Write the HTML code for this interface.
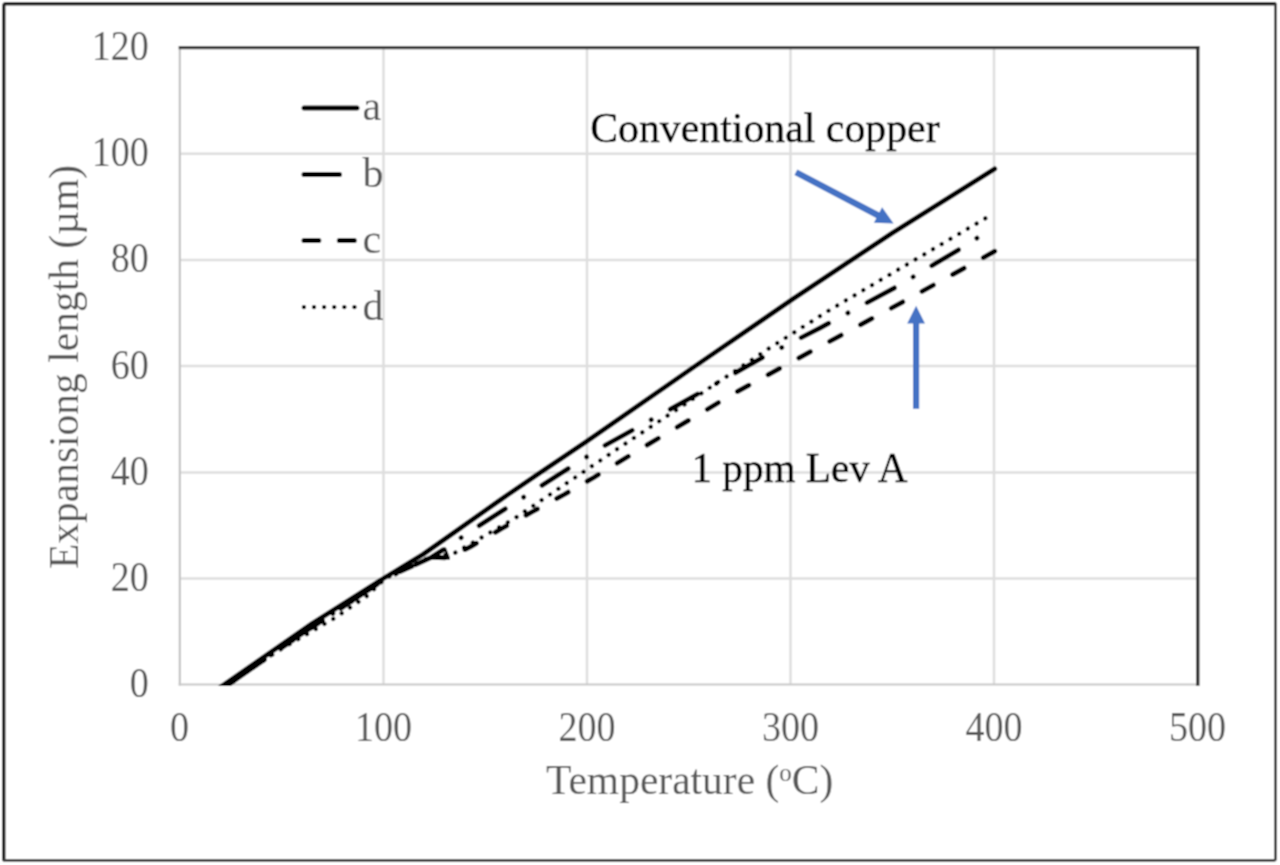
<!DOCTYPE html>
<html lang="en">
<head>
<meta charset="utf-8">
<title>Thermal expansion chart</title>
<style>
  html, body { margin: 0; padding: 0; background: #ffffff; }
  body { width: 1280px; height: 865px; overflow: hidden; }
  svg { display: block; }
  text { font-family: "Liberation Serif", "Times New Roman", Times, serif; }
  .tick { font-size: 38.1px; fill: #595959; }
  .title { font-size: 41.5px; fill: #595959; }
  .leg { font-size: 42px; fill: #595959; }
  .note { font-size: 41.8px; fill: #000000; stroke: #000000; stroke-width: 0.45px; }
  .grid line { stroke: #dedede; stroke-width: 2.5; }
  .series { fill: none; stroke: #000000; stroke-width: 5; stroke-linecap: round; stroke-linejoin: round; }
</style>
</head>
<body>
<svg width="1280" height="865" viewBox="0 0 1280 865">
  <defs><filter id="soft" x="0" y="0" width="1280" height="865" filterUnits="userSpaceOnUse"><feConvolveMatrix order="3" kernelMatrix="1 2 1 2 4 2 1 2 1" edgeMode="duplicate" preserveAlpha="true"/></filter></defs>
  <g filter="url(#soft)">
  <rect x="-10" y="-10" width="1300" height="885" fill="#ffffff"/>

  <!-- outer frame -->
  <g id="frame" fill="none">
    <path d="M3.8 861 V5.8 Q3.8 3.7 5.9 3.7 H1276" stroke="#222222" stroke-width="3.4"/>
    <path d="M1275.5 3 V859.2 Q1275.5 860.3 1274.4 860.3 H3" stroke="#3c3c3c" stroke-width="2.7"/>
  </g>

  <!-- gridlines -->
  <g class="grid">
    <line x1="180" y1="578.6" x2="1196" y2="578.6"/>
    <line x1="180" y1="472.4" x2="1196" y2="472.4"/>
    <line x1="180" y1="366.1" x2="1196" y2="366.1"/>
    <line x1="180" y1="259.9" x2="1196" y2="259.9"/>
    <line x1="180" y1="153.7" x2="1196" y2="153.7"/>
    <line x1="383.5" y1="47.5" x2="383.5" y2="684.5"/>
    <line x1="587.0" y1="47.5" x2="587.0" y2="684.5"/>
    <line x1="790.5" y1="47.5" x2="790.5" y2="684.5"/>
    <line x1="994.0" y1="47.5" x2="994.0" y2="684.5"/>
  </g>

  <!-- axes / plot border -->
  <line x1="179.8" y1="46.5" x2="179.8" y2="685.5" stroke="#c3c3c3" stroke-width="2.2"/>
  <line x1="178.7" y1="684.5" x2="1198" y2="684.5" stroke="#c8c8c8" stroke-width="2.2"/>
  <line x1="178.7" y1="47.6" x2="1199.4" y2="47.6" stroke="#404040" stroke-width="3.1"/>
  <line x1="1197.8" y1="46.2" x2="1197.8" y2="685.8" stroke="#303030" stroke-width="3.4"/>

  <!-- y tick labels -->
  <g class="tick" text-anchor="end">
    <text transform="translate(148.8 60.0) scale(1 1.11)">120</text>
    <text transform="translate(148.8 166.2) scale(1 1.11)">100</text>
    <text transform="translate(148.8 272.3) scale(1 1.11)">80</text>
    <text transform="translate(148.8 378.5) scale(1 1.11)">60</text>
    <text transform="translate(148.8 484.7) scale(1 1.11)">40</text>
    <text transform="translate(148.8 590.8) scale(1 1.11)">20</text>
    <text transform="translate(148.8 697.0) scale(1 1.11)">0</text>
  </g>

  <!-- x tick labels -->
  <g class="tick" text-anchor="middle">
    <text transform="translate(179.6 740.8) scale(1 1.11)">0</text>
    <text transform="translate(383.5 740.8) scale(1 1.11)">100</text>
    <text transform="translate(587.0 740.8) scale(1 1.11)">200</text>
    <text transform="translate(790.5 740.8) scale(1 1.11)">300</text>
    <text transform="translate(994.0 740.8) scale(1 1.11)">400</text>
    <text transform="translate(1197.6 740.8) scale(1 1.11)">500</text>
  </g>

  <!-- axis titles -->
  <text class="title" x="546" y="793.8">Temperature (<tspan font-size="25" dy="-13">o</tspan><tspan dy="13">C)</tspan></text>
  <text class="title" transform="translate(77.6 569.1) rotate(-90)">Expansiong length (µm)</text>

  <!-- data series -->
  <defs><clipPath id="plotclip"><rect x="180" y="46" width="1019" height="639.7"/></clipPath></defs>
  <g class="series" clip-path="url(#plotclip)">
    <!-- a : solid -->
    <polyline points="220.6,687 312,623.6 380,580.5 423,554.4 455,531.9 500,500.1 541.3,471.9 586.3,441.6 700,362.8 791.9,299.6 892.5,232.8 994.7,168.8"/>
    <!-- c : dashed -->
    <polyline stroke-dasharray="13 22" points="994.7,251.3 904.7,300.9 812.5,350.6 736.6,391.9 646.6,445.3 594,477.3 564,494.6 533,511.4 502,528.4 470,547 448,558 431.6,557.2 385,578.5 350,602.3 290,642 221,689.5"/>
    <!-- b : long dash dot -->
    <polyline stroke-dasharray="0.01 21.8 31 21.8" points="976.9,238.1 960.9,248.4 896.3,286.9 820,328 764.7,356.3 698.1,393.8 603.4,446.3 539.4,486.9 476.6,527.2 444.7,548.8 431.6,557.2 385,579 350,602 290,641.5 222,689"/>
    <!-- d : dotted -->
    <polyline stroke-width="4.4" stroke-dasharray="0.01 10.1" points="985.3,218.4 830.6,309.4 771.3,346.9 613.4,451.6 514,518.8 454,553.4 430,557 385,578.5 367.8,595.3 335,617.8 275.9,652.1 226,686"/>
    <path d="M431.6 557.4 L444.9 548.8 L448.6 558.3 Z" stroke-width="3"/>
  </g>

  <!-- legend -->
  <g class="series">
    <line x1="304" y1="108.1" x2="357" y2="108.1"/>
    <line x1="304" y1="174.4" x2="339.5" y2="174.4"/>
    <line x1="304" y1="240.5" x2="318.8" y2="240.5"/>
    <line x1="339.3" y1="240.5" x2="354.3" y2="240.5"/>
    <line x1="303.9" y1="307.1" x2="356" y2="307.1" stroke-width="4.4" stroke-dasharray="0.01 10.1"/>
  </g>
  <g class="leg">
    <text x="362.5" y="120.3">a</text>
    <text x="362.5" y="186.8">b</text>
    <text x="362.5" y="253.2">c</text>
    <text x="362.5" y="319.8">d</text>
  </g>

  <!-- annotations -->
  <text class="note" x="590.2" y="142.2">Conventional copper</text>
  <text class="note" x="691.4" y="482.4" style="font-size:41.2px">1 ppm Lev A</text>

  <!-- arrows -->
  <g fill="#4472c4" stroke="none">
    <line x1="795.9" y1="172.3" x2="880" y2="216.4" stroke="#4472c4" stroke-width="6.3"/>
    <polygon points="893.6,223.5 882.1,207.2 873.9,222.8"/>
    <line x1="916.1" y1="408.8" x2="916.1" y2="322" stroke="#4472c4" stroke-width="6.2"/>
    <polygon points="916.1,305.8 907.2,323.6 925,323.6"/>
  </g>
  </g>
</svg>
</body>
</html>
